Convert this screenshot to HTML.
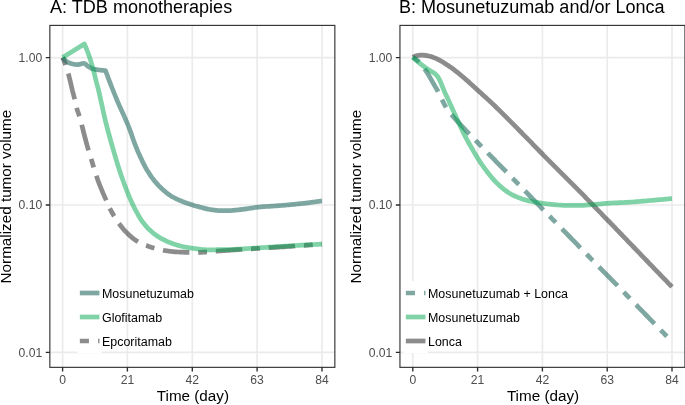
<!DOCTYPE html>
<html><head><meta charset="utf-8">
<style>
html,body{margin:0;padding:0;background:#fff;}
svg{display:block;}
text{font-family:"Liberation Sans",sans-serif;}
.t{font-size:18.05px;fill:#000;}
.ax{font-size:15.24px;fill:#000;}
.tk{font-size:12.15px;fill:#4d4d4d;}
.lg{font-size:12.45px;fill:#000;}
.grid{stroke:#ebebeb;stroke-width:1.7;fill:none;}
.tick{stroke:#2a2a2a;stroke-width:1.35;fill:none;}
.border{stroke:#333;stroke-width:1.15;fill:none;}
.ln{fill:none;stroke-width:4.7;stroke-linejoin:round;stroke-linecap:butt;}
</style></head><body>
<svg width="685" height="405" viewBox="0 0 685 405">
<rect width="685" height="405" fill="#fff"/>
<g id="panelA">
<text class="t" x="50.1" y="12.9">A: TDB monotherapies</text>
<g class="grid">
<path d="M49.85 57.55H334.85M49.85 205.0H334.85M49.85 352.35H334.85"/>
<path d="M62.6 25.4V367.35M127.4 25.4V367.35M192.3 25.4V367.35M257.1 25.4V367.35M322.0 25.4V367.35"/>
</g>
<path stroke-dashoffset="0.7" class="ln" stroke="#1a1a1a" stroke-opacity="0.5" stroke-dasharray="8.84 8.84 26.52 8.84" d="M62.6 57.5L63.6 59.7L64.6 62.3L65.6 65.2L66.6 68.2L67.6 71.2L68.6 74.6L69.6 78.6L70.6 82.7L71.6 87.1L72.6 91.3L73.6 95.0L74.6 99.0L75.6 103.7L76.6 107.9L77.6 111.0L78.6 113.8L79.6 117.0L80.6 120.5L81.6 124.3L82.6 128.1L83.6 132.1L84.6 136.1L85.6 139.9L86.6 143.6L87.6 147.2L88.6 150.7L89.6 153.9L90.6 157.0L91.6 160.3L92.6 163.6L93.6 167.0L94.6 170.4L95.6 173.8L96.7 176.8L97.7 179.7L98.7 182.4L99.7 185.0L100.7 187.5L101.7 189.9L102.7 192.3L103.7 194.6L104.7 196.9L105.7 199.1L106.7 201.5L107.7 203.8L108.7 206.1L109.7 208.2L110.7 210.1L111.7 212.0L112.7 213.7L113.7 215.5L114.7 217.1L115.7 218.7L116.7 220.3L117.7 221.8L118.7 223.2L119.7 224.5L120.7 225.8L121.7 227.1L122.7 228.3L123.7 229.5L124.7 230.6L125.7 231.7L126.7 232.7L127.7 233.7L128.7 234.6L129.7 235.6L130.7 236.4L131.7 237.3L132.7 238.1L133.7 238.9L134.7 239.6L135.7 240.3L136.7 240.9L137.7 241.5L138.7 242.1L139.7 242.6L140.7 243.1L141.7 243.6L142.7 244.0L143.7 244.4L144.7 244.9L145.7 245.3L146.7 245.6L147.7 246.0L148.7 246.4L149.7 246.7L150.7 247.1L151.7 247.4L152.7 247.7L153.7 248.0L154.7 248.3L155.7 248.6L156.7 248.8L157.7 249.1L158.7 249.3L159.7 249.6L160.7 249.8L161.7 250.0L162.8 250.2L163.8 250.4L164.8 250.5L165.8 250.7L166.8 250.8L167.8 251.0L168.8 251.1L169.8 251.3L170.8 251.4L171.8 251.5L172.8 251.6L173.8 251.7L174.8 251.8L175.8 251.8L176.8 251.9L177.8 252.0L178.8 252.0L179.8 252.1L180.8 252.1L181.8 252.2L182.8 252.2L183.8 252.2L184.8 252.3L185.8 252.3L186.8 252.3L187.8 252.3L188.8 252.3L189.8 252.3L190.8 252.3L191.8 252.3L192.8 252.3L193.8 252.3L194.8 252.3L195.8 252.3L196.8 252.3L197.8 252.3L198.8 252.3L199.8 252.3L200.8 252.3L201.8 252.3L202.8 252.2L203.8 252.2L204.8 252.1L205.8 252.1L206.8 252.0L207.8 252.0L208.8 251.9L209.8 251.8L210.8 251.7L211.8 251.6L212.8 251.5L213.8 251.4L214.8 251.3L215.8 251.2L216.8 251.2L217.8 251.1L218.8 251.0L219.8 250.9L220.8 250.8L221.8 250.8L222.8 250.7L223.8 250.6L224.8 250.6L225.8 250.5L226.8 250.4L227.8 250.3L228.9 250.3L229.9 250.2L230.9 250.1L231.9 250.1L232.9 250.0L233.9 249.9L234.9 249.9L235.9 249.8L236.9 249.7L237.9 249.7L238.9 249.6L239.9 249.5L240.9 249.5L241.9 249.4L242.9 249.3L243.9 249.3L244.9 249.2L245.9 249.1L246.9 249.1L247.9 249.0L248.9 249.0L249.9 248.9L250.9 248.8L251.9 248.8L252.9 248.7L253.9 248.7L254.9 248.6L255.9 248.5L256.9 248.5L257.9 248.4L258.9 248.4L259.9 248.3L260.9 248.2L261.9 248.2L262.9 248.1L263.9 248.1L264.9 248.0L265.9 247.9L266.9 247.9L267.9 247.8L268.9 247.7L269.9 247.7L270.9 247.6L271.9 247.6L272.9 247.5L273.9 247.4L274.9 247.4L275.9 247.3L276.9 247.2L277.9 247.2L278.9 247.1L279.9 247.0L280.9 247.0L281.9 246.9L282.9 246.8L283.9 246.8L284.9 246.7L285.9 246.6L286.9 246.5L287.9 246.5L288.9 246.4L289.9 246.3L290.9 246.3L291.9 246.2L292.9 246.1L293.9 246.1L295.0 246.0L296.0 245.9L297.0 245.9L298.0 245.8L299.0 245.7L300.0 245.7L301.0 245.6L302.0 245.5L303.0 245.4L304.0 245.4L305.0 245.3L306.0 245.2L307.0 245.2L308.0 245.1L309.0 245.0L310.0 245.0L311.0 244.9L312.0 244.8L313.0 244.7L314.0 244.7L315.0 244.6L316.0 244.5L317.0 244.5L318.0 244.4L319.0 244.3L320.0 244.2L321.0 244.2L322.0 244.1"/>
<path class="ln" stroke="#286c64" stroke-opacity="0.6" d="M62.6 57.5L63.6 58.7L64.6 59.8L65.7 60.8L66.7 61.4L67.7 62.1L68.7 62.6L69.8 63.1L70.8 63.4L71.8 63.7L72.8 64.0L73.8 64.2L74.9 64.4L75.9 64.5L76.9 64.6L77.9 64.6L78.9 64.4L80.0 64.2L81.0 63.9L82.0 63.6L83.0 63.5L84.0 63.4L85.1 63.8L86.1 64.6L87.1 65.6L88.1 66.4L89.2 67.0L90.2 67.6L91.2 68.2L92.2 68.6L93.2 68.9L94.3 69.2L95.3 69.4L96.3 69.6L97.3 69.7L98.3 69.9L99.4 70.0L100.4 70.1L101.4 70.2L102.4 70.4L103.5 70.4L104.5 70.5L105.5 70.6L106.5 73.3L107.5 76.0L108.5 78.7L109.5 81.3L110.5 83.9L111.5 86.5L112.5 89.0L113.5 91.5L114.5 94.0L115.5 96.5L116.5 98.9L117.5 101.3L118.5 103.6L119.5 105.9L120.5 108.1L121.5 110.3L122.5 112.5L123.5 114.6L124.5 116.9L125.5 119.2L126.5 121.6L127.6 124.0L128.6 126.5L129.6 129.2L130.6 131.9L131.6 134.7L132.6 137.7L133.6 140.6L134.6 143.3L135.6 145.9L136.6 148.4L137.6 150.8L138.6 153.1L139.6 155.3L140.6 157.5L141.6 159.6L142.6 161.7L143.6 163.8L144.6 165.7L145.6 167.6L146.6 169.4L147.6 171.0L148.6 172.6L149.6 174.2L150.6 175.6L151.6 177.1L152.6 178.4L153.6 179.7L154.6 181.0L155.6 182.2L156.6 183.3L157.6 184.5L158.6 185.5L159.6 186.6L160.6 187.5L161.6 188.5L162.6 189.4L163.6 190.3L164.6 191.1L165.6 192.0L166.6 192.8L167.6 193.6L168.6 194.3L169.6 195.1L170.6 195.7L171.7 196.4L172.7 197.0L173.7 197.5L174.7 198.0L175.7 198.6L176.7 199.0L177.7 199.5L178.7 200.0L179.7 200.4L180.7 200.8L181.7 201.2L182.7 201.6L183.7 202.0L184.7 202.4L185.7 202.7L186.7 203.1L187.7 203.4L188.7 203.8L189.7 204.1L190.7 204.4L191.7 204.7L192.7 205.0L193.7 205.4L194.7 205.7L195.7 206.0L196.7 206.2L197.7 206.5L198.7 206.8L199.7 207.1L200.7 207.3L201.7 207.6L202.7 207.9L203.7 208.1L204.7 208.4L205.7 208.6L206.7 208.9L207.7 209.1L208.7 209.3L209.7 209.5L210.7 209.6L211.7 209.8L212.7 209.9L213.7 210.0L214.7 210.2L215.8 210.3L216.8 210.4L217.8 210.5L218.8 210.6L219.8 210.6L220.8 210.6L221.8 210.6L222.8 210.7L223.8 210.7L224.8 210.7L225.8 210.7L226.8 210.7L227.8 210.7L228.8 210.7L229.8 210.6L230.8 210.6L231.8 210.5L232.8 210.4L233.8 210.3L234.8 210.2L235.8 210.1L236.8 210.0L237.8 209.9L238.8 209.8L239.8 209.7L240.8 209.6L241.8 209.4L242.8 209.3L243.8 209.2L244.8 209.1L245.8 208.9L246.8 208.8L247.8 208.6L248.8 208.5L249.8 208.3L250.8 208.2L251.8 208.0L252.8 207.9L253.8 207.7L254.8 207.5L255.8 207.4L256.8 207.3L257.8 207.1L258.8 207.1L259.9 207.0L260.9 206.9L261.9 206.8L262.9 206.7L263.9 206.7L264.9 206.6L265.9 206.5L266.9 206.5L267.9 206.4L268.9 206.3L269.9 206.3L270.9 206.2L271.9 206.2L272.9 206.1L273.9 206.0L274.9 205.9L275.9 205.9L276.9 205.8L277.9 205.7L278.9 205.7L279.9 205.6L280.9 205.5L281.9 205.4L282.9 205.3L283.9 205.3L284.9 205.2L285.9 205.1L286.9 205.0L287.9 204.9L288.9 204.8L289.9 204.7L290.9 204.6L291.9 204.5L292.9 204.4L293.9 204.4L294.9 204.3L295.9 204.1L296.9 204.0L297.9 203.9L298.9 203.8L299.9 203.7L300.9 203.6L301.9 203.5L302.9 203.4L304.0 203.3L305.0 203.2L306.0 203.0L307.0 202.9L308.0 202.8L309.0 202.7L310.0 202.5L311.0 202.4L312.0 202.3L313.0 202.1L314.0 202.0L315.0 201.9L316.0 201.7L317.0 201.6L318.0 201.5L319.0 201.3L320.0 201.2L321.0 201.0L322.0 200.9"/>
<path class="ln" stroke="#00a850" stroke-opacity="0.5" d="M62.6 57.4L84.3 43.9L85.3 46.1L86.3 48.5L87.3 51.0L88.3 53.6L89.3 56.5L90.3 59.5L91.3 62.6L92.3 65.9L93.3 69.5L94.3 73.5L95.3 77.7L96.3 81.8L97.3 85.5L98.3 89.2L99.3 93.4L100.3 98.0L101.3 102.6L102.4 107.3L103.4 111.9L104.4 116.4L105.4 120.7L106.4 124.7L107.4 128.6L108.4 132.4L109.4 136.0L110.4 139.6L111.4 143.2L112.4 146.7L113.4 150.2L114.4 153.6L115.4 157.0L116.4 160.4L117.4 163.7L118.4 166.9L119.4 170.0L120.4 173.0L121.4 175.9L122.4 178.7L123.4 181.5L124.4 184.3L125.4 186.9L126.4 189.6L127.4 192.1L128.4 194.6L129.4 197.1L130.4 199.4L131.4 201.7L132.4 203.8L133.4 205.9L134.4 207.9L135.4 209.9L136.5 211.9L137.5 213.7L138.5 215.5L139.5 217.2L140.5 218.9L141.5 220.4L142.5 221.8L143.5 223.1L144.5 224.3L145.5 225.5L146.5 226.7L147.5 227.8L148.5 228.8L149.5 229.8L150.5 230.7L151.5 231.6L152.5 232.5L153.5 233.3L154.5 234.1L155.5 234.8L156.5 235.5L157.5 236.2L158.5 236.8L159.5 237.5L160.5 238.1L161.5 238.6L162.5 239.2L163.5 239.7L164.5 240.2L165.5 240.7L166.5 241.2L167.5 241.6L168.5 242.0L169.5 242.4L170.6 242.8L171.6 243.2L172.6 243.6L173.6 243.9L174.6 244.3L175.6 244.6L176.6 244.9L177.6 245.2L178.6 245.5L179.6 245.8L180.6 246.1L181.6 246.3L182.6 246.5L183.6 246.7L184.6 247.0L185.6 247.2L186.6 247.3L187.6 247.5L188.6 247.7L189.6 247.8L190.6 248.0L191.6 248.1L192.6 248.3L193.6 248.4L194.6 248.5L195.6 248.7L196.6 248.8L197.6 249.0L198.6 249.1L199.6 249.2L200.6 249.3L201.6 249.5L202.6 249.6L203.6 249.6L204.7 249.7L205.7 249.8L206.7 249.8L207.7 249.8L208.7 249.8L209.7 249.8L210.7 249.8L211.7 249.8L212.7 249.8L213.7 249.8L214.7 249.8L215.7 249.8L216.7 249.7L217.7 249.7L218.7 249.7L219.7 249.7L220.7 249.7L221.7 249.7L222.7 249.7L223.7 249.7L224.7 249.6L225.7 249.6L226.7 249.6L227.7 249.6L228.7 249.6L229.7 249.5L230.7 249.5L231.7 249.5L232.7 249.4L233.7 249.4L234.7 249.4L235.7 249.3L236.7 249.2L237.7 249.2L238.7 249.1L239.8 249.1L240.8 249.0L241.8 249.0L242.8 248.9L243.8 248.8L244.8 248.8L245.8 248.7L246.8 248.6L247.8 248.6L248.8 248.5L249.8 248.4L250.8 248.4L251.8 248.3L252.8 248.3L253.8 248.2L254.8 248.1L255.8 248.1L256.8 248.0L257.8 247.9L258.8 247.9L259.8 247.8L260.8 247.7L261.8 247.7L262.8 247.6L263.8 247.5L264.8 247.5L265.8 247.4L266.8 247.3L267.8 247.3L268.8 247.2L269.8 247.1L270.8 247.1L271.8 247.0L272.8 246.9L273.9 246.9L274.9 246.8L275.9 246.7L276.9 246.7L277.9 246.6L278.9 246.5L279.9 246.5L280.9 246.4L281.9 246.4L282.9 246.3L283.9 246.2L284.9 246.2L285.9 246.1L286.9 246.1L287.9 246.0L288.9 245.9L289.9 245.9L290.9 245.8L291.9 245.8L292.9 245.7L293.9 245.6L294.9 245.6L295.9 245.5L296.9 245.5L297.9 245.4L298.9 245.4L299.9 245.3L300.9 245.2L301.9 245.2L302.9 245.1L303.9 245.1L304.9 245.0L305.9 245.0L306.9 244.9L308.0 244.8L309.0 244.8L310.0 244.7L311.0 244.7L312.0 244.6L313.0 244.6L314.0 244.5L315.0 244.5L316.0 244.4L317.0 244.4L318.0 244.3L319.0 244.3L320.0 244.2L321.0 244.2L322.0 244.1"/>
<rect class="border" x="49.85" y="25.4" width="285.0" height="341.95"/>
<g class="tick">
<path d="M45.75 57.55H49.85M45.75 205.0H49.85M45.75 352.35H49.85"/>
<path d="M62.6 367.35V371.55M127.4 367.35V371.55M192.3 367.35V371.55M257.1 367.35V371.55M322.0 367.35V371.55"/>
</g>
<g class="tk" text-anchor="end">
<text x="42.2" y="61.6">1.00</text>
<text x="42.2" y="209.1">0.10</text>
<text x="42.2" y="356.5">0.01</text>
</g>
<g class="tk" text-anchor="middle">
<text x="62.6" y="383.6">0</text>
<text x="127.4" y="383.6">21</text>
<text x="192.3" y="383.6">42</text>
<text x="257.1" y="383.6">63</text>
<text x="322.0" y="383.6">84</text>
</g>
<text class="ax" x="192.9" y="400.9" text-anchor="middle">Time (day)</text>
<text class="ax" transform="translate(11.2,196.6) rotate(-90)" text-anchor="middle">Normalized tumor volume</text>
<rect x="77.4" y="281.0" width="24.5" height="24" fill="#fff"/>
<rect x="77.4" y="305.0" width="24.5" height="24" fill="#fff"/>
<rect x="77.4" y="329.0" width="24.5" height="24" fill="#fff"/>
<path class="ln" stroke="#286c64" stroke-opacity="0.6" d="M79.85 293.0H99.45"/>
<text class="lg" x="102.0" y="297.9">Mosunetuzumab</text>
<path class="ln" stroke="#00a850" stroke-opacity="0.5" d="M79.85 317.0H99.45"/>
<text class="lg" x="102.0" y="321.9">Glofitamab</text>
<path class="ln" stroke="#1a1a1a" stroke-opacity="0.5" stroke-dasharray="9.1 9.1 27 9.1" d="M79.85 341.0H99.45"/>
<text class="lg" x="102.0" y="345.9">Epcoritamab</text>
</g>
<g id="panelB">
<text class="t" x="399.0" y="12.9">B: Mosunetuzumab and/or Lonca</text>
<g class="grid">
<path d="M399.95 57.55H684.95M399.95 205.0H684.95M399.95 352.35H684.95"/>
<path d="M412.8 25.4V367.35M477.6 25.4V367.35M542.4 25.4V367.35M607.2 25.4V367.35M672.0 25.4V367.35"/>
</g>
<path class="ln" stroke="#1a1a1a" stroke-opacity="0.5" d="M412.8 57.3L413.8 56.8L414.8 56.3L415.8 55.9L416.8 55.6L417.8 55.5L418.8 55.3L419.8 55.2L420.8 55.1L421.8 55.1L422.8 55.1L423.8 55.2L424.8 55.3L425.8 55.4L426.8 55.6L427.8 55.8L428.8 56.0L429.8 56.2L430.8 56.5L431.8 56.8L432.8 57.2L433.8 57.6L434.8 58.0L435.8 58.4L436.8 58.8L437.8 59.3L438.8 59.8L439.8 60.4L440.8 60.9L441.8 61.5L442.8 62.1L443.8 62.7L444.8 63.4L445.8 64.0L446.8 64.7L447.8 65.3L448.8 66.0L449.8 66.7L450.8 67.3L451.8 68.0L452.8 68.8L453.8 69.5L454.8 70.3L455.8 71.1L456.8 71.9L457.8 72.7L458.8 73.5L459.8 74.3L460.8 75.2L461.8 76.0L462.8 76.8L463.8 77.7L464.8 78.5L465.8 79.4L466.8 80.3L467.8 81.2L468.8 82.0L469.8 83.0L470.8 83.9L471.8 84.8L472.8 85.7L473.8 86.6L474.8 87.6L475.8 88.5L476.8 89.4L477.8 90.3L478.9 91.3L479.9 92.2L480.9 93.1L481.9 94.0L482.9 94.9L483.9 95.8L484.9 96.7L485.9 97.6L486.9 98.5L487.9 99.4L488.9 100.3L489.9 101.3L490.9 102.2L491.9 103.2L492.9 104.1L493.9 105.1L494.9 106.0L495.9 107.0L496.9 108.0L497.9 108.9L498.9 109.9L499.9 110.9L500.9 111.9L501.9 112.9L502.9 113.9L503.9 114.9L504.9 115.8L505.9 116.8L506.9 117.8L507.9 118.8L508.9 119.9L509.9 120.9L510.9 121.9L511.9 122.9L512.9 123.9L513.9 124.9L514.9 125.9L515.9 126.9L516.9 127.9L517.9 129.0L518.9 130.0L519.9 131.0L520.9 132.0L521.9 133.0L522.9 134.1L523.9 135.1L524.9 136.1L525.9 137.1L526.9 138.1L527.9 139.2L528.9 140.2L529.9 141.2L530.9 142.2L531.9 143.2L532.9 144.3L533.9 145.3L534.9 146.3L535.9 147.4L536.9 148.4L537.9 149.4L538.9 150.5L539.9 151.5L540.9 152.5L541.9 153.5L542.9 154.5L543.9 155.6L544.9 156.6L545.9 157.6L546.9 158.6L547.9 159.6L548.9 160.6L549.9 161.6L550.9 162.6L551.9 163.6L552.9 164.6L553.9 165.6L554.9 166.6L555.9 167.6L556.9 168.6L557.9 169.6L558.9 170.6L559.9 171.6L560.9 172.6L561.9 173.6L562.9 174.6L563.9 175.6L564.9 176.6L565.9 177.6L566.9 178.6L567.9 179.6L568.9 180.6L569.9 181.6L570.9 182.6L571.9 183.6L572.9 184.6L573.9 185.6L574.9 186.6L575.9 187.6L576.9 188.6L577.9 189.6L578.9 190.6L579.9 191.7L580.9 192.7L581.9 193.7L582.9 194.7L583.9 195.7L584.9 196.7L585.9 197.8L586.9 198.8L587.9 199.8L588.9 200.8L589.9 201.9L590.9 202.9L591.9 203.9L592.9 204.9L593.9 206.0L594.9 207.0L595.9 208.0L596.9 209.1L597.9 210.1L598.9 211.1L599.9 212.2L600.9 213.2L601.9 214.2L602.9 215.3L603.9 216.3L604.9 217.4L605.9 218.4L606.9 219.4L607.9 220.5L609.0 221.5L610.0 222.5L611.0 223.6L612.0 224.6L613.0 225.7L614.0 226.7L615.0 227.7L616.0 228.8L617.0 229.8L618.0 230.9L619.0 231.9L620.0 233.0L621.0 234.0L622.0 235.0L623.0 236.1L624.0 237.1L625.0 238.2L626.0 239.2L627.0 240.2L628.0 241.3L629.0 242.3L630.0 243.4L631.0 244.4L632.0 245.4L633.0 246.5L634.0 247.5L635.0 248.5L636.0 249.6L637.0 250.6L638.0 251.7L639.0 252.7L640.0 253.7L641.0 254.8L642.0 255.8L643.0 256.9L644.0 257.9L645.0 258.9L646.0 260.0L647.0 261.0L648.0 262.0L649.0 263.1L650.0 264.1L651.0 265.2L652.0 266.2L653.0 267.2L654.0 268.3L655.0 269.3L656.0 270.3L657.0 271.4L658.0 272.4L659.0 273.4L660.0 274.5L661.0 275.5L662.0 276.6L663.0 277.6L664.0 278.6L665.0 279.7L666.0 280.7L667.0 281.7L668.0 282.8L669.0 283.8L670.0 284.8L671.0 285.9L672.0 286.9"/>
<path stroke-dashoffset="1" class="ln" stroke="#286c64" stroke-opacity="0.6" stroke-dasharray="8.84 8.84 26.52 8.84" d="M412.8 57.3L413.8 57.9L414.8 58.6L415.8 59.4L416.8 60.1L417.8 60.9L418.8 61.7L419.8 62.7L420.8 63.8L421.8 65.1L422.8 66.3L423.8 67.7L424.8 69.2L425.8 70.6L426.8 72.1L427.8 73.7L428.8 75.4L429.8 77.1L430.8 78.9L431.8 80.6L432.8 82.4L433.8 84.1L434.8 85.9L435.8 87.6L436.8 89.3L437.8 91.2L438.8 93.2L439.8 95.2L440.8 97.3L441.8 99.3L442.8 101.3L443.8 103.3L444.8 105.1L445.8 106.9L446.8 108.6L447.8 110.1L448.8 111.5L449.8 112.8L450.8 114.0L451.8 115.1L452.8 116.2L453.8 117.3L454.8 118.5L455.8 119.6L456.8 120.7L457.8 121.8L458.8 122.9L459.8 124.0L460.8 125.0L461.8 126.1L462.8 127.1L463.8 128.2L464.8 129.2L465.8 130.3L466.8 131.3L467.8 132.4L468.8 133.4L469.8 134.4L470.8 135.5L471.8 136.5L472.8 137.6L473.8 138.6L474.8 139.6L475.8 140.7L476.8 141.7L477.8 142.8L478.9 143.8L479.9 144.8L480.9 145.9L481.9 146.9L482.9 147.9L483.9 149.0L484.9 150.0L485.9 151.0L486.9 152.0L487.9 153.1L488.9 154.1L489.9 155.1L490.9 156.1L491.9 157.2L492.9 158.2L493.9 159.2L494.9 160.2L495.9 161.3L496.9 162.3L497.9 163.3L498.9 164.3L499.9 165.3L500.9 166.4L501.9 167.4L502.9 168.4L503.9 169.4L504.9 170.4L505.9 171.5L506.9 172.5L507.9 173.5L508.9 174.5L509.9 175.5L510.9 176.6L511.9 177.6L512.9 178.6L513.9 179.6L514.9 180.6L515.9 181.7L516.9 182.7L517.9 183.7L518.9 184.7L519.9 185.7L520.9 186.8L521.9 187.8L522.9 188.8L523.9 189.8L524.9 190.9L525.9 191.9L526.9 192.9L527.9 193.9L528.9 195.0L529.9 196.0L530.9 197.0L531.9 198.0L532.9 199.1L533.9 200.1L534.9 201.1L535.9 202.1L536.9 203.2L537.9 204.2L538.9 205.2L539.9 206.2L540.9 207.3L541.9 208.3L542.9 209.3L543.9 210.3L544.9 211.4L545.9 212.4L546.9 213.4L547.9 214.5L548.9 215.5L549.9 216.5L550.9 217.5L551.9 218.6L552.9 219.6L553.9 220.6L554.9 221.6L555.9 222.7L556.9 223.7L557.9 224.7L558.9 225.7L559.9 226.8L560.9 227.8L561.9 228.8L562.9 229.8L563.9 230.9L564.9 231.9L565.9 232.9L566.9 233.9L567.9 235.0L568.9 236.0L569.9 237.0L570.9 238.0L571.9 239.1L572.9 240.1L573.9 241.1L574.9 242.1L575.9 243.2L576.9 244.2L577.9 245.2L578.9 246.3L579.9 247.3L580.9 248.3L581.9 249.3L582.9 250.4L583.9 251.4L584.9 252.4L585.9 253.4L586.9 254.5L587.9 255.5L588.9 256.5L589.9 257.5L590.9 258.6L591.9 259.6L592.9 260.6L593.9 261.6L594.9 262.7L595.9 263.7L596.9 264.7L597.9 265.7L598.9 266.8L599.9 267.8L600.9 268.8L601.9 269.8L602.9 270.9L603.9 271.9L604.9 272.9L605.9 273.9L606.9 275.0L607.9 276.0L609.0 277.0L610.0 278.0L611.0 279.1L612.0 280.1L613.0 281.1L614.0 282.2L615.0 283.2L616.0 284.2L617.0 285.2L618.0 286.3L619.0 287.3L620.0 288.3L621.0 289.3L622.0 290.4L623.0 291.4L624.0 292.4L625.0 293.4L626.0 294.5L627.0 295.5L628.0 296.5L629.0 297.5L630.0 298.6L631.0 299.6L632.0 300.6L633.0 301.6L634.0 302.7L635.0 303.7L636.0 304.7L637.0 305.7L638.0 306.8L639.0 307.8L640.0 308.8L641.0 309.8L642.0 310.9L643.0 311.9L644.0 312.9L645.0 314.0L646.0 315.0L647.0 316.0L648.0 317.0L649.0 318.1L650.0 319.1L651.0 320.1L652.0 321.1L653.0 322.2L654.0 323.2L655.0 324.2L656.0 325.2L657.0 326.3L658.0 327.3L659.0 328.3L660.0 329.3L661.0 330.4L662.0 331.4L663.0 332.4L664.0 333.4L665.0 334.5L666.0 335.5L667.0 336.5L668.0 337.5L669.0 338.6L670.0 339.6L671.0 340.6L672.0 341.6"/>
<path class="ln" stroke="#00a850" stroke-opacity="0.5" d="M412.8 57.3L413.8 58.2L414.8 59.1L415.8 60.0L416.8 60.8L417.8 61.7L418.8 62.5L419.8 63.3L420.8 64.1L421.8 64.9L422.8 65.7L423.8 66.4L424.8 67.2L425.8 67.9L426.8 68.6L427.8 69.2L428.8 69.9L429.8 70.5L430.8 71.1L431.8 71.7L432.8 72.3L433.8 72.9L434.8 73.6L435.8 74.5L436.8 75.6L437.8 76.8L438.8 78.4L439.8 80.3L440.8 82.6L441.8 85.1L442.8 87.5L443.8 90.0L444.8 92.4L445.8 94.5L446.8 96.6L447.8 98.7L448.8 100.9L449.8 103.1L450.8 105.3L451.8 107.5L452.8 109.7L453.8 111.9L454.8 114.1L455.8 116.2L456.8 118.4L457.8 120.6L458.8 122.8L459.8 125.0L460.8 127.3L461.8 129.5L462.8 131.6L463.8 133.7L464.8 135.6L465.8 137.5L466.8 139.4L467.8 141.2L468.8 143.0L469.8 144.8L470.8 146.5L471.8 148.2L472.8 149.9L473.8 151.7L474.8 153.4L475.8 155.1L476.8 156.8L477.8 158.4L478.9 160.0L479.9 161.6L480.9 163.1L481.9 164.6L482.9 166.0L483.9 167.4L484.9 168.8L485.9 170.1L486.9 171.5L487.9 172.8L488.9 174.0L489.9 175.3L490.9 176.5L491.9 177.7L492.9 178.8L493.9 180.0L494.9 181.0L495.9 182.1L496.9 183.1L497.9 184.1L498.9 185.0L499.9 185.9L500.9 186.8L501.9 187.7L502.9 188.5L503.9 189.3L504.9 190.1L505.9 190.8L506.9 191.5L507.9 192.2L508.9 192.9L509.9 193.5L510.9 194.1L511.9 194.6L512.9 195.1L513.9 195.6L514.9 196.1L515.9 196.5L516.9 196.9L517.9 197.4L518.9 197.8L519.9 198.1L520.9 198.5L521.9 198.9L522.9 199.2L523.9 199.5L524.9 199.8L525.9 200.1L526.9 200.4L527.9 200.6L528.9 200.9L529.9 201.1L530.9 201.3L531.9 201.5L532.9 201.7L533.9 201.9L534.9 202.1L535.9 202.3L536.9 202.4L537.9 202.6L538.9 202.8L539.9 202.9L540.9 203.1L541.9 203.2L542.9 203.4L543.9 203.5L544.9 203.6L545.9 203.8L546.9 203.9L547.9 204.0L548.9 204.1L549.9 204.2L550.9 204.3L551.9 204.4L552.9 204.5L553.9 204.6L554.9 204.7L555.9 204.8L556.9 204.9L557.9 205.0L558.9 205.0L559.9 205.1L560.9 205.2L561.9 205.2L562.9 205.3L563.9 205.3L564.9 205.3L565.9 205.3L566.9 205.3L567.9 205.3L568.9 205.3L569.9 205.4L570.9 205.4L571.9 205.4L572.9 205.4L573.9 205.4L574.9 205.4L575.9 205.4L576.9 205.4L577.9 205.4L578.9 205.4L579.9 205.4L580.9 205.4L581.9 205.4L582.9 205.3L583.9 205.3L584.9 205.2L585.9 205.1L586.9 205.1L587.9 205.0L588.9 204.9L589.9 204.8L590.9 204.7L591.9 204.7L592.9 204.6L593.9 204.5L594.9 204.4L595.9 204.3L596.9 204.3L597.9 204.2L598.9 204.1L599.9 204.0L600.9 203.9L601.9 203.8L602.9 203.7L603.9 203.6L604.9 203.5L605.9 203.4L606.9 203.3L607.9 203.3L609.0 203.2L610.0 203.1L611.0 203.1L612.0 203.0L613.0 203.0L614.0 202.9L615.0 202.9L616.0 202.8L617.0 202.8L618.0 202.8L619.0 202.7L620.0 202.7L621.0 202.6L622.0 202.6L623.0 202.5L624.0 202.5L625.0 202.4L626.0 202.4L627.0 202.3L628.0 202.3L629.0 202.2L630.0 202.2L631.0 202.1L632.0 202.0L633.0 202.0L634.0 201.9L635.0 201.8L636.0 201.7L637.0 201.7L638.0 201.6L639.0 201.5L640.0 201.4L641.0 201.3L642.0 201.2L643.0 201.2L644.0 201.1L645.0 201.0L646.0 200.9L647.0 200.8L648.0 200.7L649.0 200.6L650.0 200.5L651.0 200.5L652.0 200.4L653.0 200.3L654.0 200.2L655.0 200.1L656.0 200.0L657.0 199.9L658.0 199.8L659.0 199.7L660.0 199.7L661.0 199.6L662.0 199.5L663.0 199.4L664.0 199.3L665.0 199.2L666.0 199.1L667.0 199.0L668.0 198.9L669.0 198.8L670.0 198.7L671.0 198.6L672.0 198.5"/>
<rect class="border" x="399.95" y="25.4" width="285.0" height="341.95"/>
<g class="tick">
<path d="M395.84999999999997 57.55H399.95M395.84999999999997 205.0H399.95M395.84999999999997 352.35H399.95"/>
<path d="M412.8 367.35V371.55M477.6 367.35V371.55M542.4 367.35V371.55M607.2 367.35V371.55M672.0 367.35V371.55"/>
</g>
<g class="tk" text-anchor="end">
<text x="392.3" y="61.6">1.00</text>
<text x="392.3" y="209.1">0.10</text>
<text x="392.3" y="356.5">0.01</text>
</g>
<g class="tk" text-anchor="middle">
<text x="412.8" y="383.6">0</text>
<text x="477.6" y="383.6">21</text>
<text x="542.4" y="383.6">42</text>
<text x="607.2" y="383.6">63</text>
<text x="672.0" y="383.6">84</text>
</g>
<text class="ax" x="543.0" y="400.9" text-anchor="middle">Time (day)</text>
<text class="ax" transform="translate(361.3,196.6) rotate(-90)" text-anchor="middle">Normalized tumor volume</text>
<rect x="403.4" y="281.0" width="24.5" height="24" fill="#fff"/>
<rect x="403.4" y="305.0" width="24.5" height="24" fill="#fff"/>
<rect x="403.4" y="329.0" width="24.5" height="24" fill="#fff"/>
<path class="ln" stroke="#286c64" stroke-opacity="0.6" stroke-dasharray="9.1 9.1 27 9.1" d="M405.85 293.0H425.45"/>
<text class="lg" x="428.0" y="297.9">Mosunetuzumab + Lonca</text>
<path class="ln" stroke="#00a850" stroke-opacity="0.5" d="M405.85 317.0H425.45"/>
<text class="lg" x="428.0" y="321.9">Mosunetuzumab</text>
<path class="ln" stroke="#1a1a1a" stroke-opacity="0.5" d="M405.85 341.0H425.45"/>
<text class="lg" x="428.0" y="345.9">Lonca</text>
</g>
</svg>
</body></html>
